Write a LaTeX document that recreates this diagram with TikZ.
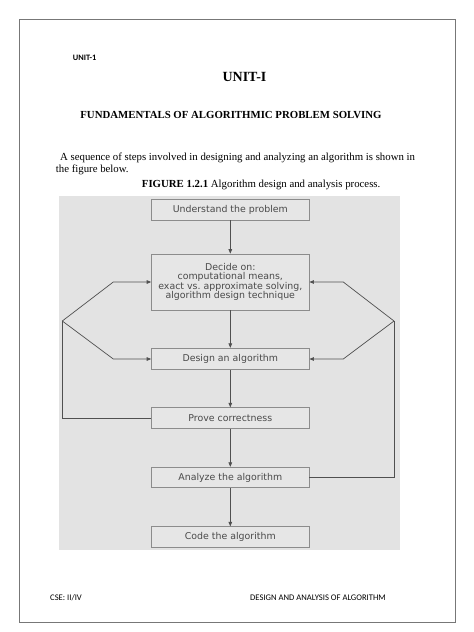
\documentclass[tikz,border=0pt]{standalone}
\usepackage{fontspec}
\setmainfont{Liberation Serif}
\newfontfamily\calib{Carlito}
\newfontfamily\diag{DejaVu Sans}
\usetikzlibrary{arrows.meta}
\frenchspacing
\definecolor{pageline}{HTML}{777777}
\definecolor{figbg}{HTML}{E3E3E3}
\definecolor{boxfill}{HTML}{E6E6E6}
\definecolor{boxline}{HTML}{8C8C8C}
\definecolor{conline}{HTML}{505050}
\definecolor{difftext}{HTML}{4A4A4A}
\tikzset{
  stepbox/.style={draw=boxline, fill=boxfill, line width=0.8pt, minimum width=157.5pt, minimum height=20.5pt, inner sep=0pt, text=difftext, font=\diag\fontsize{9.4}{9.6}\selectfont, align=center},
  conn/.style={draw=conline, line width=0.7pt},
  arr/.style={conn, -{Triangle[length=4.5pt,width=3.6pt]}},
  basetext/.style={anchor=base, inner sep=0pt},
}
\begin{document}
\begin{tikzpicture}[x=1pt,y=-1pt]
\useasboundingbox (0,0) rectangle (474,632);
\fill[white] (0,0) rectangle (474,632);
% page border
\draw[pageline, line width=1pt] (19,19.5) rectangle (455,622);
% header texts
\node[basetext, anchor=base west, font=\calib\bfseries\fontsize{8.3}{10}\selectfont] (unit1) at (72.7,60) {UNIT-1};
\node[basetext, font=\bfseries\fontsize{14}{16}\selectfont] (title) at (244.5,81.7) {UNIT-I};
\node[basetext, font=\bfseries\fontsize{10.8}{13}\selectfont] (sub) at (231,118.3) {FUNDAMENTALS OF ALGORITHMIC PROBLEM SOLVING};
\node[basetext, anchor=base west, font=\fontsize{10.8}{13}\selectfont] (para1) at (60,160) {A sequence of steps involved in designing and analyzing an algorithm is shown in};
\node[basetext, anchor=base west, font=\fontsize{10.8}{13}\selectfont] (para2) at (55.7,172.5) {the figure below.};
\node[basetext, anchor=base west, font=\fontsize{10.8}{13}\selectfont] (cap) at (141.7,187.3) {\textbf{FIGURE 1.2.1} Algorithm design and analysis process.};
% figure background
\fill[figbg] (59,196) rectangle (400,550);
% boxes
\node[stepbox] (u) at (230.3,209.7) {Understand the problem};
\node[stepbox, minimum height=56pt] (d) at (230.3,282) {Decide on:\\computational means,\\exact vs.\ approximate solving,\\algorithm design technique};
\node[stepbox, minimum height=21.5pt] (g) at (230.3,359) {Design an algorithm};
\node[stepbox] (p) at (230.3,418) {Prove correctness};
\node[stepbox] (a) at (230.3,477.5) {Analyze the algorithm};
\node[stepbox] (c) at (230.3,537) {Code the algorithm};
% main chain
\draw[arr] (u) -- (d);
\draw[arr] (d) -- (g);
\draw[arr] (g) -- (p);
\draw[arr] (p) -- (a);
\draw[arr] (a) -- (c);
% left loop
\coordinate (lb) at (62.3,418);
\coordinate (lv) at (62.3,321);
\coordinate (lu) at (113.3,282);
\coordinate (ld) at (113.3,359);
\draw[conn] (p.west) -- (lb) -- (lv);
\draw[arr] (lv) -- (lu) -- (lu -| d.west);
\draw[arr] (lv) -- (ld) -- (ld -| g.west);
% right loop
\coordinate (rb) at (394,477.5);
\coordinate (rv) at (394,321);
\coordinate (ru) at (343.3,282);
\coordinate (rd) at (343.3,359);
\draw[conn] (a.east) -- (rb) -- (rv);
\draw[arr] (rv) -- (ru) -- (ru -| d.east);
\draw[arr] (rv) -- (rd) -- (rd -| g.east);
% footer
\node[basetext, anchor=base west, font=\calib\fontsize{8.6}{10}\selectfont] (f1) at (50,600.7) {CSE: II/IV};
\node[basetext, anchor=base west, font=\calib\fontsize{8.6}{10}\selectfont] (f2) at (250,600.7) {DESIGN AND ANALYSIS OF ALGORITHM};
\end{tikzpicture}
\end{document}
